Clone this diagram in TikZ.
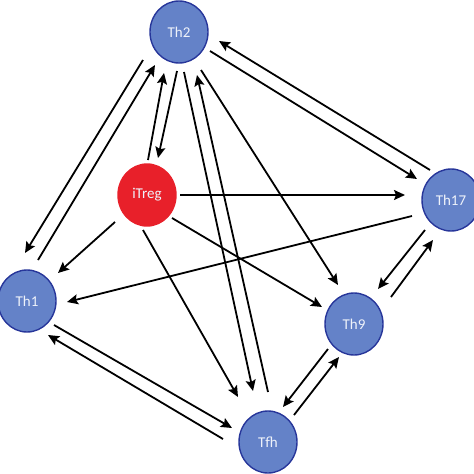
\documentclass[tikz,border=0pt]{standalone}
\usepackage{fontspec}
\setmainfont{Carlito}
\usetikzlibrary{shapes.geometric,arrows.meta,calc}
\definecolor{cellblue}{HTML}{6482C8}
\definecolor{cellborder}{HTML}{27369A}
\definecolor{cellred}{HTML}{E8202A}
\definecolor{celltext}{HTML}{EEF2FA}
\begin{document}
\begin{tikzpicture}[x=1pt,y=-1pt,
  cell/.style={ellipse,minimum width=58pt,minimum height=62pt,inner sep=0pt,
    fill=cellblue,draw=cellborder,line width=1.4pt,text=celltext,font=\fontsize{15}{17}\selectfont},
  redcell/.style={cell,fill=cellred,draw=cellred},
  arr/.style={line width=1.8pt,-{Stealth[length=11pt,width=10pt,inset=2pt]}}]
\useasboundingbox (0,0) rectangle (474,474);
\node[cell] (th2) at (179,32) {Th2};
\node[redcell] (itreg) at (147,195) {iTreg};
\node[cell] (th1) at (27,301) {Th1};
\node[cell] (th17) at (451,200) {Th17};
\node[cell] (th9) at (354,324) {Th9};
\node[cell] (tfh) at (268,442) {Tfh};
% Th2 <-> Th1
\draw[arr] ($(th2)+(-36,28)$) -- ($(th1)+(-2,-48)$);
\draw[arr] ($(th1)+(11,-41)$) -- ($(th2)+(-24,33)$);
% Th2 <-> iTreg
\draw[arr] ($(itreg)+(1,-35)$) -- ($(th2)+(-15,41)$);
\draw[arr] ($(th2)+(-2,39)$) -- ($(itreg)+(11,-37)$);
% Th2 <-> Tfh
\draw[arr] ($(th2)+(5,40)$) -- ($(tfh)+(-15,-51)$);
\draw[arr] ($(tfh)+(0,-50)$) -- ($(th2)+(18,43)$);
% Th2 -> Th9
\draw[arr] ($(th2)+(22,38)$) -- ($(th9)+(-16,-39)$);
% Th2 <-> Th17
\draw[arr] ($(th17)+(-21,-30)$) -- ($(th2)+(40,9)$);
\draw[arr] ($(th2)+(31,19)$) -- ($(th17)+(-34,-21)$);
% iTreg -> Th17
\draw[arr] ($(itreg)+(33,0)$) -- ($(th17)+(-46,-5)$);
% Th17 -> Th1
\draw[arr] ($(th17)+(-39,16)$) -- ($(th1)+(40,1)$);
% iTreg -> Th1, Th9, Tfh
\draw[arr] ($(itreg)+(-32,27)$) -- ($(th1)+(31,-28)$);
\draw[arr] ($(itreg)+(25,23)$) -- ($(th9)+(-32,-17)$);
\draw[arr] ($(itreg)+(-4,35)$) -- ($(tfh)+(-30,-45)$);
% Th1 <-> Tfh
\draw[arr] ($(th1)+(27,24)$) -- ($(tfh)+(-36,-14)$);
\draw[arr] ($(tfh)+(-45,-3)$) -- ($(th1)+(21,34)$);
% Th9 <-> Tfh
\draw[arr] ($(th9)+(-26,25)$) -- ($(tfh)+(15,-35)$);
\draw[arr] ($(tfh)+(26,-27)$) -- ($(th9)+(-15,33)$);
% Th17 <-> Th9
\draw[arr] ($(th17)+(-26,30)$) -- ($(th9)+(24,-35)$);
\draw[arr] ($(th9)+(37,-27)$) -- ($(th17)+(-18,40)$);
\end{tikzpicture}
\end{document}
